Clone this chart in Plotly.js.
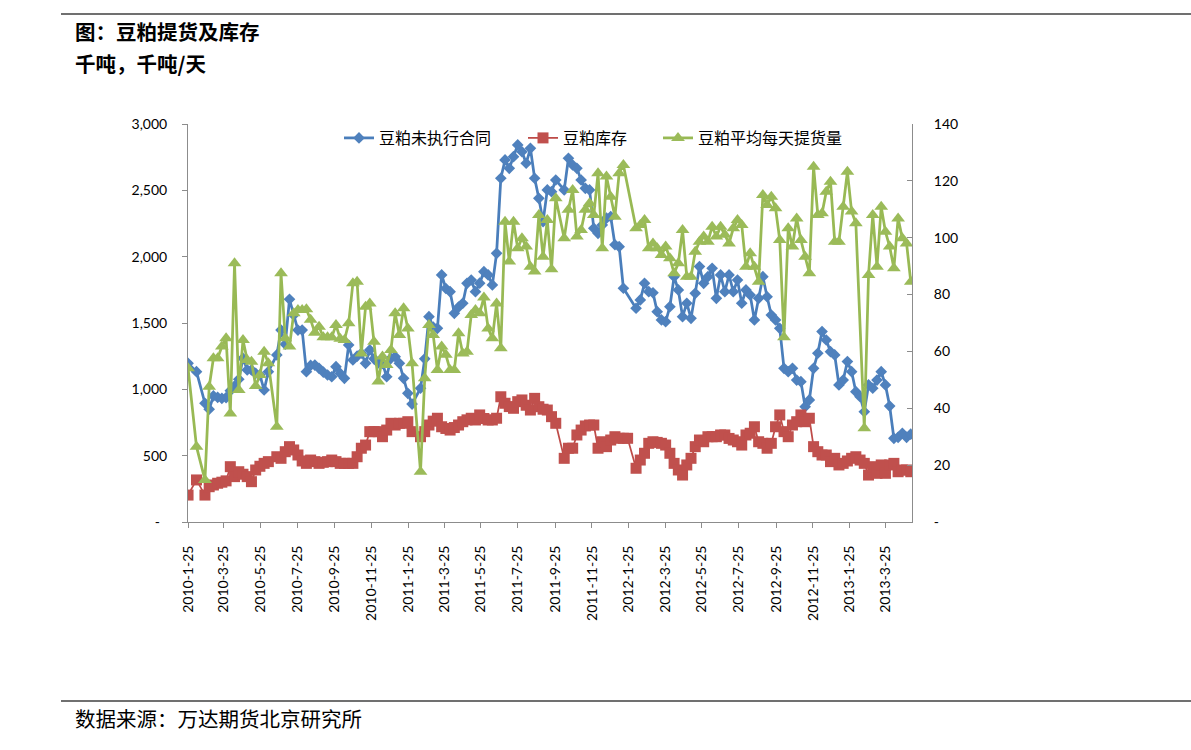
<!DOCTYPE html>
<html>
<head>
<meta charset="utf-8">
<script src="https://cdn.plot.ly/plotly-3.0.1.min.js"></script>
<style>
html,body{margin:0;padding:0;background:#fff;}
#chart{width:1191px;height:750px;}
</style>
</head>
<body>
<div id="chart"></div>
<script>
// ---------------- DATA ----------------
const dates = [
"2010-01-25","2010-02-01","2010-02-08","2010-02-15","2010-02-22","2010-03-01","2010-03-08","2010-03-15","2010-03-22","2010-03-29",
"2010-04-05","2010-04-12","2010-04-19","2010-04-26","2010-05-03","2010-05-10","2010-05-17","2010-05-24","2010-05-31","2010-06-07",
"2010-06-14","2010-06-21","2010-06-28","2010-07-05","2010-07-12","2010-07-19","2010-07-26","2010-08-02","2010-08-09","2010-08-16",
"2010-08-23","2010-08-30","2010-09-06","2010-09-13","2010-09-20","2010-09-27","2010-10-04","2010-10-11","2010-10-18","2010-10-25",
"2010-11-01","2010-11-08","2010-11-15","2010-11-22","2010-11-29","2010-12-06","2010-12-13","2010-12-20","2010-12-27","2011-01-03",
"2011-01-10","2011-01-17","2011-01-24","2011-01-31","2011-02-07","2011-02-14","2011-02-21","2011-02-28","2011-03-07","2011-03-14",
"2011-03-21","2011-03-28","2011-04-04","2011-04-11","2011-04-18","2011-04-25","2011-05-02","2011-05-09","2011-05-16","2011-05-23",
"2011-05-30","2011-06-06","2011-06-13","2011-06-20","2011-06-27","2011-07-04","2011-07-11","2011-07-18","2011-07-25","2011-08-01",
"2011-08-08","2011-08-15","2011-08-22","2011-08-29","2011-09-05","2011-09-12","2011-09-19","2011-09-26","2011-10-03","2011-10-10",
"2011-10-17","2011-10-24","2011-10-31","2011-11-07","2011-11-14","2011-11-21","2011-11-28","2011-12-05","2011-12-12","2011-12-19",
"2011-12-26","2012-01-02","2012-01-09","2012-01-16","2012-01-23","2012-01-30","2012-02-06","2012-02-13","2012-02-20","2012-02-27",
"2012-03-05","2012-03-12","2012-03-19","2012-03-26","2012-04-02","2012-04-09","2012-04-16","2012-04-23","2012-04-30","2012-05-07",
"2012-05-14","2012-05-21","2012-05-28","2012-06-04","2012-06-11","2012-06-18","2012-06-25","2012-07-02","2012-07-09","2012-07-16",
"2012-07-23","2012-07-30","2012-08-06","2012-08-13","2012-08-20","2012-08-27","2012-09-03","2012-09-10","2012-09-17","2012-09-24",
"2012-10-01","2012-10-08","2012-10-15","2012-10-22","2012-10-29","2012-11-05","2012-11-12","2012-11-19","2012-11-26","2012-12-03",
"2012-12-10","2012-12-17","2012-12-24","2012-12-31","2013-01-07","2013-01-14","2013-01-21","2013-01-28","2013-02-04","2013-02-11",
"2013-02-18","2013-02-25","2013-03-04","2013-03-11","2013-03-18","2013-03-25","2013-04-01","2013-04-08","2013-04-15","2013-04-22",
"2013-04-29","2013-05-06"
];

// 豆粕未执行合同 (千吨, left axis)
const contracts = [
1196,null,1133,null,895,850,950,940,932,937,
990,1025,1076,1234,1146,1146,1120,1108,995,1133,
null,1259,1447,1340,1679,1560,1447,1447,1133,1180,
1183,1158,1130,1108,1095,1171,1120,1083,1334,1221,
1250,1272,1196,1297,1230,1200,1196,1095,1234,1246,
1196,1083,970,889,null,1008,1230,1548,1470,1460,
1862,1760,1736,1573,1620,1649,1799,1824,1736,1800,
1887,1862,1787,2025,2591,2729,2666,2754,2842,2791,
2704,2817,2591,2440,2264,2503,2490,2578,null,2503,
2742,2691,2666,2578,2515,2503,2214,2176,2239,2290,
2302,2090,2075,1762,null,null,1611,1674,1799,1736,
1728,1585,1523,1510,1623,1849,1749,1548,1649,1535,
1724,1925,1799,1849,1912,1686,1862,1736,1862,1736,
1824,1649,1749,1711,1523,1686,1849,1698,1560,1523,
1460,1158,1133,1158,1070,1058,869,920,1158,1272,
1435,1372,1284,1259,1033,1070,1209,1133,982,945,
831,1033,1008,1070,1133,1033,874,631,638,669,
638,663
];

// 豆粕库存 (千吨, left axis)
const inventory = [
203,null,317,null,203,266,279,292,300,310,
417,342,379,360,342,304,392,420,442,455,
null,492,480,530,568,543,505,460,442,467,
455,442,450,455,467,455,442,442,442,442,
492,556,580,681,681,681,643,693,744,731,
744,744,756,681,null,643,681,731,760,782,
718,705,693,712,731,756,770,782,769,807,
780,769,769,782,944,895,870,857,907,920,
880,844,932,869,850,844,794,744,null,480,
556,556,656,693,724,731,731,556,605,568,
618,643,631,631,631,null,405,467,518,593,
605,600,593,580,518,442,392,354,430,480,
568,618,605,643,643,643,656,656,630,618,
605,580,656,669,718,605,593,556,593,718,
807,681,643,731,756,807,756,782,568,530,
505,505,455,480,430,442,460,480,492,467,
442,354,417,367,430,367,430,442,379,392,
392,379
];

// 豆粕平均每天提货量 (千吨/天, right axis)
const dailyPickup = [
54.1,null,26.5,null,14.8,47.6,57.6,57.6,61.7,64.6,
38.2,91.0,46.4,64.0,57.0,56.4,47.8,51.7,59.9,55.8,
null,33.5,87.5,64.6,61.7,73.4,74.6,74.6,74.8,71.1,
66.6,68.7,65.0,65.0,65.0,69.3,64.5,64.0,69.9,84.0,
84.5,59.3,75.7,76.9,63.4,49.4,58.2,55.2,60.5,73.4,
65.8,75.2,68.1,55.8,null,17.7,50.6,69.3,65.8,53.5,
61.7,58.8,53.5,53.5,66.4,59.3,59.9,72.8,74.6,73.4,
79.0,68.1,64.6,76.9,61.1,105.6,91.6,105.6,96.3,99.8,
96.9,89.8,88.1,108.0,93.3,106.2,88.9,113.9,null,99.8,
109.8,116.8,100.4,102.7,109.8,112.1,108.0,122.7,96.3,121.5,
114.4,107.4,122.7,125.6,null,null,103.3,104.5,106.2,96.3,
98.0,96.3,93.9,96.9,92.8,87.5,91.0,102.7,86.3,86.3,
95.1,98.6,100.4,98.6,103.9,100.4,103.9,101.0,98.0,103.3,
106.2,104.5,89.8,94.5,89.8,84.5,115.0,111.5,114.4,110.4,
99.2,65.0,103.3,96.9,106.8,99.2,93.3,87.5,125.0,108.0,
108.6,116.2,119.7,98.6,98.6,110.9,123.2,109.2,105.1,null,
33.0,86.9,108.0,89.8,110.9,102.1,96.9,89.3,106.8,99.8,
98.0,84.5
];

const seriesNames = ["豆粕未执行合同","豆粕库存","豆粕平均每天提货量"];

const xTickVals = ["2010-01-25","2010-03-25","2010-05-25","2010-07-25","2010-09-25","2010-11-25",
"2011-01-25","2011-03-25","2011-05-25","2011-07-25","2011-09-25","2011-11-25",
"2012-01-25","2012-03-25","2012-05-25","2012-07-25","2012-09-25","2012-11-25",
"2013-01-25","2013-03-25"];
const xTickText = ["2010-1-25","2010-3-25","2010-5-25","2010-7-25","2010-9-25","2010-11-25",
"2011-1-25","2011-3-25","2011-5-25","2011-7-25","2011-9-25","2011-11-25",
"2012-1-25","2012-3-25","2012-5-25","2012-7-25","2012-9-25","2012-11-25",
"2013-1-25","2013-3-25"];
const leftTickVals = [0,500,1000,1500,2000,2500,3000];
const leftTickText = ["-\u00a0\u00a0","500","1,000","1,500","2,000","2,500","3,000"];
const rightTickVals = [0,20,40,60,80,100,120,140];
const rightTickText = ["-","20","40","60","80","100","120","140"];

const titleText = "图：豆粕提货及库存";
const unitText = "千吨，千吨/天";
const sourceText = "数据来源：万达期货北京研究所";

// ---------------- LAYOUT HELPERS ----------------
const W = 1191, H = 750;
const M = {l:188, r:279, t:124, b:228};
const PW = W - M.l - M.r, PH = H - M.t - M.b;
const fx = px => (px - M.l) / PW;
const fy = py => (H - M.b - py) / PH;

const numFont = {family:"Lato, 'Liberation Sans', sans-serif", size:14, color:"#000"};
const cjk = "'Noto Sans CJK SC', 'Noto Sans', sans-serif";
const axisColor = "#8c8c8c";

const traces = [
  {
    x: dates, y: contracts, name: seriesNames[0], type: "scatter", mode: "lines+markers",
    line: {color:"#4A7EBB", width:2.75}, marker: {symbol:"diamond", size:9, color:"#4F81BD"},
    connectgaps: true, legend: "legend", yaxis: "y"
  },
  {
    x: dates, y: inventory, name: seriesNames[1], type: "scatter", mode: "lines+markers",
    line: {color:"#BE4B48", width:1.75}, marker: {symbol:"square", size:11, color:"#C0504D"},
    connectgaps: true, legend: "legend2", yaxis: "y"
  },
  {
    x: dates, y: dailyPickup, name: seriesNames[2], type: "scatter", mode: "lines+markers",
    line: {color:"#98B954", width:2.75}, marker: {symbol:"triangle-up", size:12, color:"#9BBB59"},
    connectgaps: true, legend: "legend3", yaxis: "y2"
  }
];

const legendBase = {
  orientation: "h", yanchor: "middle", y: fy(138), xanchor: "left",
  bgcolor: "rgba(0,0,0,0)", font: {family: cjk, size: 16, color:"#000"}, borderwidth: 0
};

const layout = {
  width: W, height: H,
  margin: M,
  paper_bgcolor: "#fff", plot_bgcolor: "#fff",
  showlegend: true,
  legend: Object.assign({}, legendBase, {x: fx(339)}),
  legend2: Object.assign({}, legendBase, {x: fx(523)}),
  legend3: Object.assign({}, legendBase, {x: fx(658)}),
  xaxis: {
    type: "date", range: ["2010-01-24 22:00", "2013-05-08"],
    tickmode: "array", tickvals: xTickVals, ticktext: xTickText, tickangle: -90,
    ticks: "outside", ticklen: 5, tickcolor: axisColor, tickwidth: 1,
    showline: true, linecolor: axisColor, linewidth: 1,
    showgrid: false, zeroline: false, tickfont: numFont, ticklabelstandoff: 12,
    fixedrange: true
  },
  yaxis: {
    range: [0, 3000], tickmode: "array", tickvals: leftTickVals, ticktext: leftTickText,
    ticks: "outside", ticklen: 5, tickcolor: axisColor, tickwidth: 1,
    showline: true, linecolor: axisColor, linewidth: 1,
    showgrid: false, zeroline: false, tickfont: numFont, ticklabelstandoff: 12,
    fixedrange: true
  },
  yaxis2: {
    range: [0, 140], overlaying: "y", side: "right", anchor: "x",
    tickmode: "array", tickvals: rightTickVals, ticktext: rightTickText,
    ticks: "inside", ticklen: 5, tickcolor: axisColor, tickwidth: 1,
    showline: true, linecolor: axisColor, linewidth: 1,
    showgrid: false, zeroline: false, tickfont: numFont, ticklabelstandoff: 18,
    fixedrange: true
  },
  shapes: [
    {type:"line", xref:"paper", yref:"paper", x0: fx(61), x1: fx(1191), y0: fy(14), y1: fy(14),
     line:{color:"#404040", width:1.5}},
    {type:"line", xref:"paper", yref:"paper", x0: fx(61), x1: fx(1191), y0: fy(701), y1: fy(701),
     line:{color:"#404040", width:1.5}}
  ],
  annotations: [
    {xref:"paper", yref:"paper", x: fx(73), y: fy(31), xanchor:"left", yanchor:"middle",
     text: "<b>" + titleText + "</b>", showarrow:false, font:{family: cjk, size:20.5, color:"#000"}},
    {xref:"paper", yref:"paper", x: fx(73), y: fy(63), xanchor:"left", yanchor:"middle",
     text: "<b>" + unitText + "</b>", showarrow:false, font:{family: cjk, size:20.5, color:"#000"}},
    {xref:"paper", yref:"paper", x: fx(73), y: fy(718), xanchor:"left", yanchor:"middle",
     text: sourceText, showarrow:false, font:{family: cjk, size:20.5, color:"#000"}}
  ]
};

Plotly.newPlot("chart", traces, layout, {staticPlot: true, displayModeBar: false});
</script>
</body>
</html>
